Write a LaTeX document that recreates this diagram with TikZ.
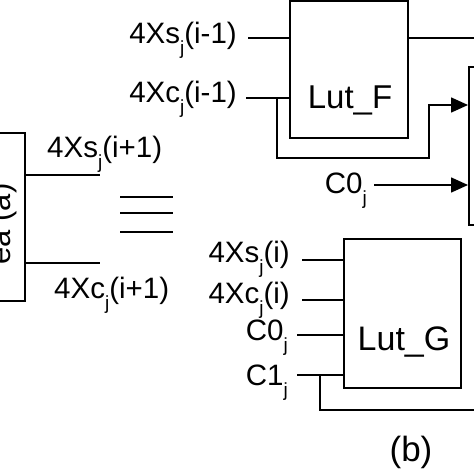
\documentclass[tikz,border=0pt]{standalone}
\usepackage{fontspec}
\setmainfont{Liberation Sans}
\usetikzlibrary{arrows.meta}
\newcommand\sj{\raisebox{-0.38em}{\fontsize{19}{19}\selectfont j}}
\tikzset{
  lbl/.style={font=\fontsize{29.5}{29.5}\selectfont, inner sep=0pt},
  big/.style={font=\fontsize{33}{33}\selectfont, inner sep=0pt},
  blk/.style={draw, line width=2pt, inner sep=0pt},
  wire/.style={line width=1.6pt},
  arr/.style={line width=1.6pt, -{Triangle[length=17pt,width=15pt]}}
}
\begin{document}
\begin{tikzpicture}[x=1pt,y=-1pt]
\useasboundingbox (0,0) rectangle (474,474);
\clip (0,0) rectangle (474,474);
% blocks
\node[blk, minimum width=118pt, minimum height=137pt] (lutF) at (349,69.5) {};
\node[big] (tF) at (350,100) {Lut\_F};
\node[blk, minimum width=117pt, minimum height=149pt] (lutG) at (402.5,313.5) {};
\node[big, font=\fontsize{34}{34}\selectfont] (tG) at (404,342) {Lut\_G};
\node[blk, minimum width=40pt, minimum height=158pt] (lutH) at (489,146) {};
\node[blk, minimum width=100pt, minimum height=168pt] (cell) at (-25,217) {};
\node[inner sep=0pt, rotate=90, anchor=base, font=\fontsize{31}{31}\selectfont] (ctxt) at (10,224) {ea (a)};
% labels
\node[lbl, anchor=base east] (l1) at (237,43) {4Xs\sj(i-1)};
\node[lbl, anchor=base east] (l2) at (237,102) {4Xc\sj(i-1)};
\node[lbl, anchor=base east] (l3) at (367,193) {C0\sj};
\node[lbl, anchor=base west] (l4) at (47,157) {4Xs\sj(i+1)};
\node[lbl, anchor=base west] (l5) at (54,298) {4Xc\sj(i+1)};
\node[lbl, anchor=base east] (l6) at (290,262) {4Xs\sj(i)};
\node[lbl, anchor=base east] (l7) at (290,303) {4Xc\sj(i)};
\node[lbl, anchor=base east] (l8) at (288,340) {C0\sj};
\node[lbl, anchor=base east] (l9) at (288,385) {C1\sj};
\node[big, font=\fontsize{35}{35}\selectfont] (cap) at (411,452) {(b)};
% coordinates
\coordinate (a1) at (248,38);
\coordinate (a2) at (246,98);
\coordinate (j1) at (277,98);
\coordinate (r1) at (429,158);
\coordinate (r2) at (429,105);
\coordinate (a3) at (374,185);
\coordinate (g1) at (302,260);
\coordinate (g2) at (302,300);
\coordinate (g3) at (297,335);
\coordinate (g4) at (297,375);
\coordinate (j2) at (320,375);
\coordinate (o1) at (100,175);
\coordinate (o2) at (100,263);
\coordinate (e) at (474,410);
% wires
\draw[wire] (a1) -- (a1 -| lutF.west);
\draw[wire] (a2) -- (a2 -| lutF.west);
\draw[arr] (j1) |- (r1) |- (r2 -| lutH.west);
\draw[wire] (lutF.east |- a1) -- (lutH.east |- a1);
\draw[arr] (a3) -- (a3 -| lutH.west);
\draw[wire] (g1) -- (g1 -| lutG.west);
\draw[wire] (g2) -- (g2 -| lutG.west);
\draw[wire] (g3) -- (g3 -| lutG.west);
\draw[wire] (g4) -- (g4 -| lutG.west);
\draw[wire] (j2) |- (e);
\draw[wire] (cell.east |- o1) -- (o1);
\draw[wire] (cell.east |- o2) -- (o2);
% equivalence sign
\draw[wire] (120,197) -- (173,197);
\draw[wire] (120,213) -- (173,213);
\draw[wire] (120,232) -- (173,232);
\end{tikzpicture}
\end{document}
